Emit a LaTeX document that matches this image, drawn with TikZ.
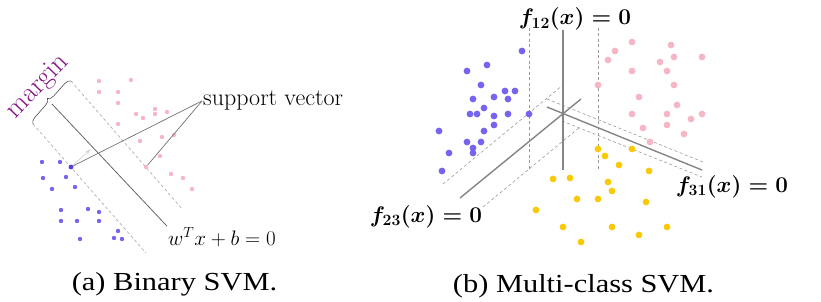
\RequirePackage{fix-cm}
\documentclass[tikz,border=0pt]{standalone}
\usepackage{amsmath,amssymb}
\usepackage{graphicx}
\usepackage{fontspec}
\newfontfamily\capfont{Liberation Serif}
\usetikzlibrary{positioning, arrows.meta, decorations.pathreplacing}
\definecolor{bluedot}{RGB}{118,100,238}
\definecolor{svblue}{RGB}{85,65,215}
\definecolor{pinkdot}{RGB}{245,182,198}
\definecolor{golddot}{RGB}{250,202,10}
\definecolor{margincol}{RGB}{135,25,135}
\definecolor{linegray}{RGB}{120,120,120}

\begin{document}
\begin{tikzpicture}[x=1pt, y=-1pt, >=Stealth,
    svmdot/.style={circle, inner sep=0pt, minimum size=#1},
    bl/.style={svmdot=4.4pt, fill=bluedot},
    pk/.style={svmdot=4.4pt, fill=pinkdot},
    bb/.style={svmdot=6.8pt, fill=bluedot},
    pp/.style={svmdot=6.8pt, fill=pinkdot},
    yy/.style={svmdot=6.8pt, fill=golddot},
    plane/.style={draw=linegray, line width=1pt},
    marg/.style={draw=black!35, line width=0.6pt, dash pattern=on 3pt off 2.5pt},
    capt/.style={font=\capfont\fontsize{26}{30}\selectfont, anchor=base, inner sep=0pt},
    lbl/.style={font=\fontsize{21}{25}\selectfont, inner sep=1pt},
    flbl/.style={font=\boldmath\fontsize{22.5}{26}\selectfont, anchor=base, inner sep=0pt}]
  \useasboundingbox (0,0) rectangle (821,302);
  % (a) binary
  \coordinate (ma1) at (71,81);  \coordinate (ma2) at (183,210);
  \coordinate (mb1) at (33,124); \coordinate (mb2) at (146,253);
  \coordinate (hp) at (52,104);  \coordinate (ft) at (91,149);
  \draw[marg] (ma1) -- (ma2);
  \draw[marg] (mb1) -- (mb2);
  \foreach \x/\y [count=\i] in {42/162,60/162,43/178,66/177,52/189,75/187,61/210,88/209,99/212,
      61/221,77/221,99/221,118/231,80/239,114/238,122/239}
    \node[bl] (ba\i) at (\x,\y) {};
  \foreach \x/\y [count=\i] in {99/81,131/80,99/92,118/92,118/103,155/109,155/114,167/112,136/114,
      143/118,118/124,140/141,162/137,174/135,160/156,171/174,183/178,192/189}
    \node[pk] (pa\i) at (\x,\y) {};
  \node[svmdot=4.8pt, fill=svblue] (sva) at (71,167) {};
  \node[pk] (svb) at (146,167) {};
  \node[lbl, anchor=base west, font=\fontsize{24}{28}\selectfont] (sv) at (202,106) {support vector};
  \node[lbl, anchor=base west] (weq) at (167,245) {$w^Tx+b=0$};
  \draw[plane, draw=black!60, line width=0.8pt] (hp) -- (weq.north west);
  \draw[black!55, line width=0.7pt] (sv.west) -- (sva);
  \draw[black!55, line width=0.7pt] (sv.west) -- (svb);
  \draw[black!18, line width=0.6pt, -{Stealth[length=6pt, width=3pt, open]}] (sva) -- (ft);
  \draw[black!70, line width=0.6pt, decorate, decoration={brace, amplitude=6pt}] (mb1) -- (ma1);
  \node[text=margincol, rotate=46, inner sep=0pt, font=\fontsize{28}{30}\selectfont] (mg) at (38,87) {margin};
  % (b) multi-class
  \coordinate (o) at (563,114);
  \coordinate (v1) at (563,30);  \coordinate (v2) at (563,170);
  \coordinate (vl1) at (529,28); \coordinate (vl2) at (529,170);
  \coordinate (vr1) at (598,28); \coordinate (vr2) at (598,170);
  \coordinate (d1) at (460,198); \coordinate (d2) at (581,99);
  \coordinate (du1) at (443,184); \coordinate (du2) at (563,85);
  \coordinate (dl1) at (483,207); \coordinate (dl2) at (580,127);
  \coordinate (e1) at (547,107); \coordinate (e2) at (702,170);
  \coordinate (eu1) at (547,99); \coordinate (eu2) at (703,162);
  \coordinate (el1) at (562,121); \coordinate (el2) at (702,177);
  \foreach \a/\b in {vl1/vl2,vr1/vr2,du1/du2,dl1/dl2,eu1/eu2,el1/el2}
    \draw[marg, draw=black!40] (\a) -- (\b);
  \foreach \x/\y [count=\i] in {522/51,487/65,467/71,481/85,505/91,515/91,494/97,473/99,508/99,
      484/108,470/114,477/114,508/114,529/114,494/116,494/125,439/131,484/131,467/142,481/142,
      473/148,473/153,449/153,442/171}
    \node[bb] (bm\i) at (\x,\y) {};
  \foreach \x/\y [count=\i] in {632/42,671/45,615/51,608/60,674/57,702/57,660/62,632/71,667/71,
      598/85,674/85,639/97,677/105,632/114,667/114,702/114,691/119,643/128,667/125,684/134,650/142}
    \node[pp] (pm\i) at (\x,\y) {};
  \foreach \x/\y [count=\i] in {598/149,632/149,605/156,619/165,649/171,553/179,570/178,608/182,
      612/191,577/199,598/199,646/202,536/210,563/227,612/227,667/227,639/235,581/242}
    \node[yy] (ym\i) at (\x,\y) {};
  \draw[plane, line width=1.4pt, draw=black!48] (v1) -- (v2);
  \draw[plane, line width=1.4pt, draw=black!48] (d1) -- (d2);
  \draw[plane, line width=1.4pt, draw=black!48] (e1) -- (e2);
  \node[flbl] (f12) at (575,25) {$f_{12}(x) = 0$};
  \node[flbl] (f31) at (732,192) {$f_{31}(x) = 0$};
  \node[flbl] (f23) at (426,222) {$f_{23}(x) = 0$};
  % captions
  \node[capt] (capa) at (174.5,290) {\scalebox{1.17}[1]{(a) Binary SVM.}};
  \node[capt] (capb) at (583.5,292) {\scalebox{1.17}[1]{(b) Multi-class SVM.}};
\end{tikzpicture}
\end{document}
